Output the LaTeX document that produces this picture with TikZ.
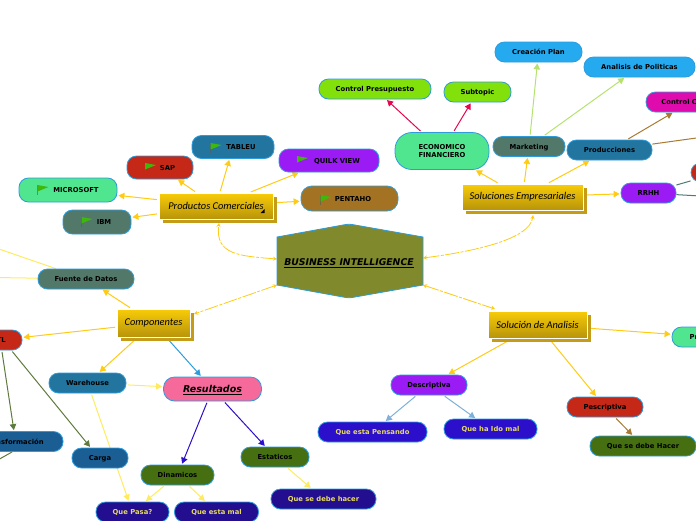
\documentclass[tikz,border=0pt]{standalone}
\usepackage{fontspec}
\setmainfont{DejaVu Sans}
\newfontfamily\handfont{Carlito}
\usepackage{xcolor}
\usetikzlibrary{arrows.meta, backgrounds, shadows}

\definecolor{edgeblue}{HTML}{2E9CDB}
\definecolor{hexolive}{HTML}{808A2C}
\definecolor{teal}{HTML}{22759F}
\definecolor{deepblue}{HTML}{1A5E93}
\definecolor{brick}{HTML}{C62817}
\definecolor{violet}{HTML}{9B1BF5}
\definecolor{ochre}{HTML}{A37323}
\definecolor{mint}{HTML}{4FE68F}
\definecolor{slate}{HTML}{52786A}
\definecolor{moss}{HTML}{466F12}
\definecolor{navy}{HTML}{220E8F}
\definecolor{indigo}{HTML}{2C0FCB}
\definecolor{sky}{HTML}{26AAEF}
\definecolor{lime}{HTML}{82E10A}
\definecolor{magenta}{HTML}{DF0BAD}
\definecolor{rosa}{HTML}{F5699B}
\definecolor{paletext}{HTML}{E8DC60}
\definecolor{goldtop}{HTML}{F8CC08}
\definecolor{goldbot}{HTML}{B8940A}
\definecolor{goldshadow}{HTML}{C49C18}
\definecolor{gold}{HTML}{FFCB14}
\definecolor{paleyellow}{HTML}{FFEB5F}
\definecolor{olivewire}{HTML}{5E7A3C}
\definecolor{greenwire}{HTML}{B5E26E}
\definecolor{crimson}{HTML}{E8074E}
\definecolor{brownwire}{HTML}{A87A32}
\definecolor{steelwire}{HTML}{7FB0D8}
\definecolor{tealwire}{HTML}{4F7A6E}
\definecolor{flaggreen}{HTML}{3FB80C}

\tikzset{
  leaf/.style={draw=edgeblue, line width=0.8pt, rounded corners=9.5pt, align=center,
    inner sep=0pt, font=\fontsize{6.8}{8.8}\selectfont\bfseries, text=black,
    text height=5.5pt, text depth=0.5pt},
  topicbox/.style={draw=white, line width=1pt, inner sep=0pt,
    top color=goldtop, bottom color=goldbot, font=\handfont\fontsize{10.4}{12}\selectfont\itshape,
    text=black, general shadow={fill=goldshadow, shadow xshift=3.5pt, shadow yshift=-3.5pt}},
  wire/.style={-{Triangle[length=6pt,width=6.5pt]}, line width=1pt, shorten <=1.5pt, shorten >=1pt},
  plainwire/.style={line width=1pt},
  linkwire/.style={{Stealth[length=4pt,width=4pt]}-{Stealth[length=4pt,width=4pt]}, gold, line width=0.8pt,
    dash pattern=on 14pt off 1.5pt on 3pt off 1.5pt}
}

\begin{document}
\begin{tikzpicture}[x=1pt, y=-1pt]
  \useasboundingbox (0,0) rectangle (696,520);

  % Central hexagon
  \draw[fill=hexolive, draw=edgeblue, line width=0.8pt]
    (277,237) coordinate (hexTL)
    -- (343,225) .. controls (348,224) and (350,224) .. (355,225)
    -- (423,237) coordinate (hexTR)
    -- (423,285) coordinate (hexBR)
    -- (355,297) .. controls (350,298) and (348,298) .. (343,297)
    -- (277,285) coordinate (hexBL)
    -- cycle;
  \coordinate (hexL) at (277,259);
  \coordinate (hexR) at (423,258);
  \node[font=\fontsize{9.3}{11}\selectfont\bfseries\itshape, text=black] (bi) at (349,263) {\underline{BUSINESS INTELLIGENCE}};

  % Main topics
  \node[topicbox, minimum width=114pt, minimum height=26pt] (productos) at (216,206) {Productos Comerciales};
  \node[topicbox, minimum width=121pt, minimum height=26pt] (soluciones) at (522.5,197) {Soluciones Empresariales};
  \node[topicbox, minimum width=73pt, minimum height=28pt] (componentes) at (153.5,323) {Componentes};
  \node[topicbox, minimum width=99pt, minimum height=27pt] (solucion) at (537.5,324.5) {Solución de Analisis};

  % Productos Comerciales
  \node[leaf, fill=teal, minimum width=82pt, minimum height=23pt] (tableu) at (233,147) {\hspace{16pt}TABLEU};
  \node[leaf, fill=brick, minimum width=66pt, minimum height=23pt] (sap) at (160,167.5) {\hspace{15pt}SAP};
  \node[leaf, fill=violet, minimum width=100pt, minimum height=23pt] (quilk) at (329,160.5) {\hspace{16pt}QUILK VIEW};
  \node[leaf, fill=ochre, minimum width=97pt, minimum height=25pt, rounded corners=11pt] (pentaho) at (349.5,198.5) {\hspace{7pt}PENTAHO};
  \node[leaf, fill=mint, minimum width=98pt, minimum height=24pt] (microsoft) at (68,190) {\hspace{16pt}MICROSOFT};
  \node[leaf, fill=slate, minimum width=68pt, minimum height=24pt] (ibm) at (97,222) {\hspace{14pt}IBM};

  % Soluciones Empresariales
  \node[leaf, fill=mint, text height=, text depth=, minimum width=94pt, minimum height=37pt, rounded corners=17pt] (economico) at (442,151) {ECONOMICO\\FINANCIERO};
  \node[leaf, fill=lime, minimum width=112pt, minimum height=20pt] (presupuesto) at (375,89) {Control Presupuesto};
  \node[leaf, fill=lime, minimum width=67pt, minimum height=20pt] (subtopic) at (477.5,92) {Subtopic};
  \node[leaf, fill=slate, minimum width=72pt, minimum height=20pt] (marketing) at (529,146.5) {Marketing};
  \node[leaf, fill=sky, minimum width=87pt, minimum height=20pt] (creacion) at (538.5,52) {Creación Plan};
  \node[leaf, fill=sky, minimum width=111pt, minimum height=20pt] (politicas) at (639.5,67) {Analisis de Politicas};
  \node[leaf, fill=teal, minimum width=85pt, minimum height=20pt] (producciones) at (609.5,150) {Producciones};
  \node[leaf, fill=magenta, minimum width=90pt, minimum height=20pt] (controlc) at (691,102) {Control Calidad};
  \node[leaf, fill=violet, minimum width=55pt, minimum height=20pt] (rrhh) at (648.5,193) {RRHH};
  \node[leaf, fill=brick, minimum width=58pt, minimum height=19pt] (rrhhred) at (720,172.5) {};
  \coordinate (prodout) at (700,137.5);
  \coordinate (rrhhout) at (700,196);

  % Componentes
  \node[leaf, fill=slate, minimum width=96pt, minimum height=20pt] (fuente) at (86,279) {Fuente de Datos};
  \coordinate (fuenteoutA) at (-4,248);
  \coordinate (fuenteoutB) at (-4,277.5);
  \node[leaf, fill=brick, minimum width=46pt, minimum height=20pt] (etl) at (-1,340) {ETL};
  \node[leaf, fill=deepblue, minimum width=98pt, minimum height=20pt] (transformacion) at (14,441.5) {Transformación};
  \coordinate (transout) at (-4,461);
  \node[leaf, fill=deepblue, minimum width=56pt, minimum height=20pt] (carga) at (100,458) {Carga};
  \node[leaf, fill=teal, minimum width=77pt, minimum height=20pt] (warehouse) at (87.5,383) {Warehouse};
  \node[leaf, fill=rosa, minimum width=98pt, minimum height=24pt, rounded corners=11pt, text height=7.5pt, text depth=0.5pt,
    font=\fontsize{9.5}{11}\selectfont\bfseries\itshape] (resultados) at (212.5,389) {\underline{Resultados}};
  \node[leaf, fill=moss, minimum width=73pt, minimum height=20pt] (dinamicos) at (177.5,475) {Dinamicos};
  \node[leaf, fill=moss, minimum width=68pt, minimum height=20pt] (estaticos) at (275,457) {Estaticos};
  \node[leaf, fill=navy, text=paletext, minimum width=73pt, minimum height=20pt] (quepasa) at (132.5,512) {Que Pasa?};
  \node[leaf, fill=navy, text=paletext, minimum width=84pt, minimum height=20pt] (quemal) at (216.5,512) {Que esta mal};
  \node[leaf, fill=navy, text=paletext, minimum width=105pt, minimum height=20pt] (quehacer) at (323.5,499) {Que se debe hacer};

  % Solucion de Analisis
  \node[leaf, fill=mint, minimum width=74pt, minimum height=20pt] (predictiva) at (709,337) {Predictiva};
  \node[leaf, fill=violet, minimum width=76pt, minimum height=20pt] (descriptiva) at (429,385) {Descriptiva};
  \node[leaf, fill=indigo, text=paletext, minimum width=109pt, minimum height=20pt] (pensando) at (372.5,432) {Que esta Pensando};
  \node[leaf, fill=indigo, text=paletext, minimum width=93pt, minimum height=20pt] (idomal) at (490.5,429) {Que ha Ido mal};
  \node[leaf, fill=brick, minimum width=76pt, minimum height=20pt] (pescriptiva) at (605,407) {Pescriptiva};
  \node[leaf, fill=moss, minimum width=106pt, minimum height=20pt] (debehacer) at (643,446) {Que se debe Hacer};

  % Flags on the products
  \foreach \fx/\fy in {210.5/143, 145/163, 297/156, 320.5/195, 37.5/185, 81.5/217} {
    \draw[gray!70!black, opacity=0.6, line width=0.8pt] (\fx,\fy) -- (\fx,\fy+10);
    \fill[flaggreen] (\fx,\fy) -- (\fx+11,\fy+2) -- (\fx,\fy+6.5) -- cycle;
  }
  % Small mark on the first topic
  \fill[black] (264.5,209) -- (264.5,213) -- (260.5,213) -- cycle;

  \begin{pgfonlayer}{background}
    % Links from the centre
    \draw[linkwire] (hexL) .. controls (240,256) and (215,255) .. (219,223);
    \draw[linkwire] (hexR) .. controls (470,252) and (530,240) .. (533,215);
    \draw[linkwire] (hexBL) -- (194,314);
    \draw[linkwire] (hexBR) -- (495,309);

    % Gold wires
    \foreach \from/\to in {productos/tableu, productos/sap, productos/quilk, productos/pentaho,
        productos/microsoft, productos/ibm, soluciones/economico, soluciones/marketing,
        soluciones/producciones, soluciones/rrhh, componentes/fuente, componentes/etl,
        componentes/warehouse, solucion/predictiva, solucion/descriptiva, solucion/pescriptiva} {
      \draw[wire, gold] (\from) -- (\to);
    }
    \draw[wire, edgeblue] (componentes) -- (resultados);

    % Second level
    \draw[wire, crimson] (economico) -- (presupuesto);
    \draw[wire, crimson] (economico) -- (subtopic);
    \draw[wire, greenwire] (marketing) -- (creacion);
    \draw[wire, greenwire] (marketing) -- (politicas);
    \draw[wire, brownwire] (producciones) -- (controlc);
    \draw[plainwire, brownwire] (producciones) -- (prodout);
    \draw[plainwire, tealwire] (rrhh) -- (rrhhred);
    \draw[plainwire, tealwire] (rrhh) -- (rrhhout);
    \draw[plainwire, paleyellow] (fuente) -- (fuenteoutA);
    \draw[plainwire, paleyellow] (fuente) -- (fuenteoutB);
    \draw[wire, olivewire] (etl.-75) -- (transformacion.north);
    \draw[wire, olivewire] (etl.-40) -- (carga.132);
    \draw[plainwire, olivewire] (transformacion.-100) -- (transout);
    \draw[wire, paleyellow] (warehouse) -- (resultados);
    \draw[wire, paleyellow] (warehouse) -- (quepasa);
    \draw[wire, indigo] (resultados) -- (dinamicos);
    \draw[wire, indigo] (resultados) -- (estaticos);
    \draw[wire, paleyellow] (dinamicos) -- (quepasa);
    \draw[wire, paleyellow] (dinamicos) -- (quemal);
    \draw[wire, paleyellow] (estaticos) -- (quehacer);
    \draw[wire, steelwire] (descriptiva) -- (pensando);
    \draw[wire, steelwire] (descriptiva) -- (idomal);
    \draw[wire, brownwire] (pescriptiva) -- (debehacer);
  \end{pgfonlayer}
\end{tikzpicture}
\end{document}
